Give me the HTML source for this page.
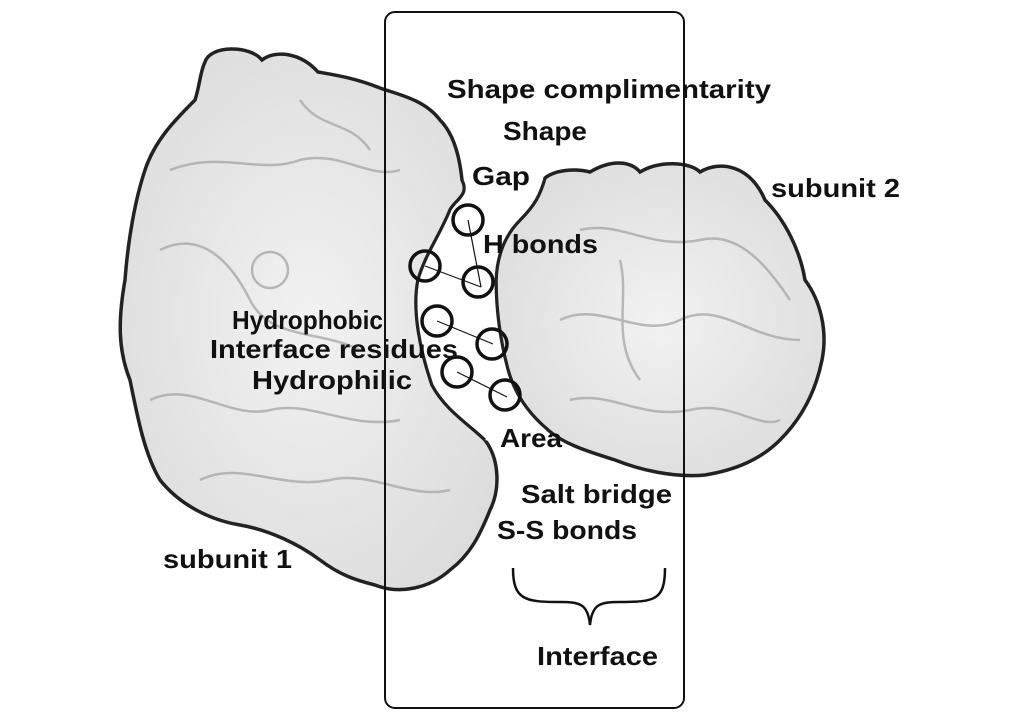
<!DOCTYPE html>
<html><head><meta charset="utf-8"><style>
html,body{margin:0;padding:0;background:#fff;}
svg{display:block;}
text{font-family:"Liberation Sans",Arial,sans-serif;font-weight:bold;font-size:26px;fill:#111;}
</style></head><body>
<svg width="1035" height="723" viewBox="0 0 1035 723" xmlns="http://www.w3.org/2000/svg">
<defs>
<radialGradient id="g1" cx="50%" cy="50%" r="60%">
<stop offset="0" stop-color="#f2f2f2"/><stop offset="1" stop-color="#dcdcdc"/>
</radialGradient>
</defs>
<path d="M205,62 C210,45 250,45 262,60 C275,50 300,52 318,72 C335,75 355,78 380,88 C400,95 425,100 440,120 C455,135 460,160 462,180 C470,195 455,200 450,210 C440,235 425,255 418,280 C412,310 420,350 432,385 C445,410 470,425 485,440 C500,460 500,490 490,510 C480,535 470,555 450,570 C430,588 400,595 375,585 C355,580 340,575 320,560 C300,545 270,530 240,525 C210,520 180,505 160,480 C145,455 138,420 130,380 C118,350 118,320 125,280 C128,240 135,200 145,170 C155,140 175,120 195,100 C200,85 200,72 205,62 Z" fill="url(#g1)" stroke="#222" stroke-width="3.5"/>
<path d="M545,178 C555,170 575,168 590,172 C610,160 630,160 640,172 C660,160 690,162 700,172 C720,160 750,165 765,200 C785,220 800,250 805,280 C820,300 828,330 822,360 C815,395 800,420 780,440 C760,460 735,470 705,475 C675,478 640,470 615,460 C590,452 565,445 548,430 C530,415 515,395 508,370 C500,340 496,310 496,280 C497,255 505,235 520,220 C535,205 540,195 545,178 Z" fill="url(#g1)" stroke="#222" stroke-width="3.5"/>
<g fill="none" stroke="#aaa" stroke-width="2.5" opacity="0.8">
<circle cx="270" cy="270" r="18"/>
<path d="M170,170 C220,150 260,175 300,160 C340,150 370,180 400,170"/>
<path d="M160,250 C200,230 230,260 250,300 C270,340 320,330 360,350"/>
<path d="M150,400 C190,380 230,420 270,410 C310,400 350,430 400,420"/>
<path d="M200,480 C240,460 280,490 330,480 C370,470 410,500 450,490"/>
<path d="M300,100 C320,130 350,120 370,150"/>
<path d="M580,230 C620,220 650,250 700,240 C740,230 770,270 790,300"/>
<path d="M560,320 C600,300 640,340 680,320 C720,300 750,340 800,340"/>
<path d="M570,400 C610,390 640,420 690,410 C730,400 760,430 780,420"/>
<path d="M620,260 C630,300 610,340 640,380"/>
</g>
<path d="M462,180 C470,195 455,200 450,210 C440,235 425,255 418,280 C412,310 420,350 432,385 C445,410 470,425 485,440 L525,450 C535,440 540,435 548,430 C530,415 515,395 508,370 C500,340 496,310 496,280 C497,255 505,235 520,220 C535,205 540,195 545,178 Z" fill="#fff"/>
<path d="M462,180 C470,195 455,200 450,210 C440,235 425,255 418,280 C412,310 420,350 432,385 C445,410 470,425 485,440" fill="none" stroke="#222" stroke-width="3"/>
<path d="M545,178 C540,195 535,205 520,220 C505,235 497,255 496,280 C496,310 500,340 508,370 C515,395 530,415 548,430" fill="none" stroke="#222" stroke-width="3"/>
<rect x="385" y="12" width="299" height="696" rx="10" fill="none" stroke="#111" stroke-width="2"/>
<g stroke="#111" stroke-width="1.2">
<line x1="468" y1="220" x2="481" y2="287"/>
<line x1="425" y1="266" x2="481" y2="287"/>
<line x1="437" y1="321" x2="493" y2="344"/>
<line x1="457" y1="372" x2="507" y2="397"/>
</g>
<g fill="none" stroke="#111" stroke-width="3.5">
<circle cx="468" cy="220" r="15"/>
<circle cx="425" cy="266" r="15"/>
<circle cx="478" cy="282" r="15"/>
<circle cx="437" cy="321" r="15"/>
<circle cx="492" cy="344" r="15"/>
<circle cx="457" cy="372" r="15"/>
<circle cx="505" cy="395" r="15"/>
</g>
<path d="M513,568 C513,600 525,602 560,602 C580,602 588,604 590,625 C592,604 600,602 620,602 C655,602 665,600 665,568" fill="none" stroke="#111" stroke-width="2.5"/>
<text x="447" y="98" textLength="324" lengthAdjust="spacingAndGlyphs">Shape complimentarity</text>
<text x="503" y="140" textLength="84" lengthAdjust="spacingAndGlyphs">Shape</text>
<text x="472" y="185" textLength="58" lengthAdjust="spacingAndGlyphs">Gap</text>
<text x="771" y="197" textLength="129" lengthAdjust="spacingAndGlyphs">subunit 2</text>
<text x="483" y="253" textLength="115" lengthAdjust="spacingAndGlyphs">H bonds</text>
<text x="232" y="329" textLength="151" lengthAdjust="spacingAndGlyphs">Hydrophobic</text>
<text x="210" y="358" textLength="248" lengthAdjust="spacingAndGlyphs">Interface residues</text>
<text x="252" y="389" textLength="160" lengthAdjust="spacingAndGlyphs">Hydrophilic</text>
<text x="500" y="447" textLength="62" lengthAdjust="spacingAndGlyphs">Area</text>
<text x="521" y="503" textLength="151" lengthAdjust="spacingAndGlyphs">Salt bridge</text>
<text x="497" y="539" textLength="140" lengthAdjust="spacingAndGlyphs">S-S bonds</text>
<text x="163" y="568" textLength="129" lengthAdjust="spacingAndGlyphs">subunit 1</text>
<text x="537" y="665" textLength="121" lengthAdjust="spacingAndGlyphs">Interface</text>
</svg>
</body></html>
